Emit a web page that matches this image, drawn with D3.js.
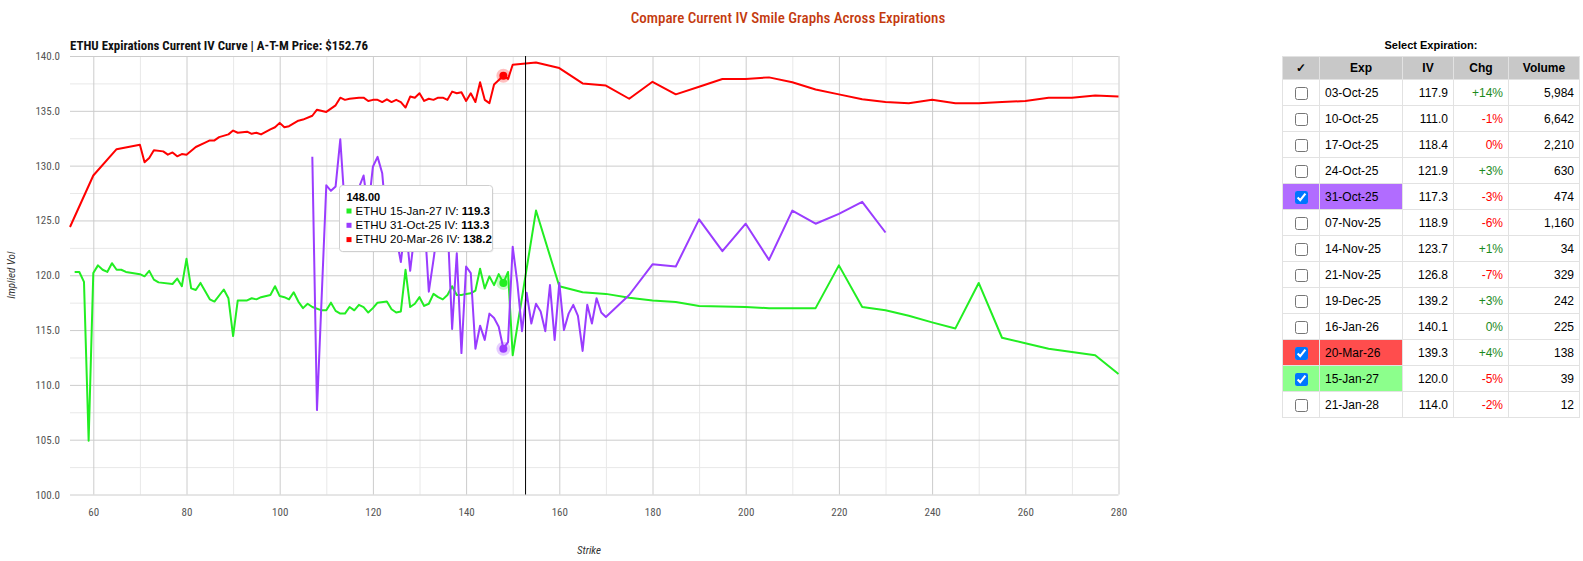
<!DOCTYPE html>
<html>
<head>
<meta charset="utf-8">
<script src="https://cdnjs.cloudflare.com/ajax/libs/d3/7.8.5/d3.min.js"></script>
<style>
  body { margin: 0; background: #fff; width: 1583px; height: 561px; overflow: hidden; position: relative; }
  #chart { position: absolute; left: 0; top: 0; }
  #pickCaption { position: absolute; left: 1283px; width: 296px; top: 39px; text-align: center;
    font: bold 11px 'Liberation Sans', Arial, sans-serif; color: #000; }
  #expTable { position: absolute; left: 1282px; top: 56px; border-collapse: collapse;
    font: 12px 'Liberation Sans', Arial, sans-serif; color: #000; }
  #expTable th { background: #c8c8c8; height: 22px; padding: 0; border: 1px solid #e2e2e2; font-weight: bold; }
  #expTable td { height: 25px; padding: 0 5px; border: 1px solid #e2e2e2; }
  #expTable td.cb { text-align: center; padding: 0; }
  #expTable td.num { text-align: right; }
  #expTable input { margin: 0; vertical-align: middle; width: 13px; height: 13px; }
</style>
</head>
<body>
<svg id="chart" width="1583" height="561"></svg>
<div id="pickCaption">Select Expiration:</div>
<table id="expTable"></table>
<script>
// ---- series data (strike / implied vol) ----
const mar26Strikes = [55,60,65,70,71,72,73,75,76,77,78,79,80,82,84,85,86,87,89,90,91,93,94,95,96,98,99,100,101,102,104,105,107,108,110,112,113,114,115,116,117,118,119,120,121,122,123,124,125,126,127,128,129,130,131,132,133,134,135,136,137,138,139,140,141,142,143,144,145,146,148,149,150,155,160,165,170,175,180,185,190,195,200,205,210,215,220,225,230,235,240,245,250,255,260,265,270,275,280];
const mar26IV = [124.4,129.1,131.5,131.9,130.3,130.7,131.4,131.3,131.0,131.2,130.85,131.05,131.0,131.7,132.1,132.3,132.3,132.6,132.85,133.2,133.0,133.1,132.9,133.0,132.85,133.3,133.5,133.9,133.5,133.6,134.1,134.2,134.55,135.1,134.9,135.5,136.2,136.0,136.1,136.15,136.2,136.2,135.9,136.0,136.0,135.8,136.05,135.8,136.0,135.8,135.3,136.3,136.2,136.6,135.9,136.1,136.0,136.2,136.2,136.0,136.75,136.6,136.7,135.9,136.6,135.8,137.6,136.0,135.7,137.4,138.2,137.9,139.2,139.4,138.9,137.5,137.3,136.1,137.65,136.5,137.2,137.9,137.9,138.05,137.6,136.95,136.5,136.05,135.8,135.7,136.0,135.7,135.7,135.8,135.9,136.2,136.2,136.4,136.3];

const jan27Strikes = [56,57,58,59,60,61,62,63,64,65,66,67,70,71,72,73,74,77,78,79,80,81,82,83,85,86,88,89,90,91,93,94,95,96,98,99,100,101,102,103,104,105,106,107,109,110,111,112,113,114,115,116,117,118,119,120,121,123,124,125,126,127,128,129,130,131,132,133,134,135,136,137,138,139,140,141,142,143,144,145,146,147,148,149,150,155,160,165,170,175,180,185,190,200,205,215,220,225,230,235,240,245,250,255,260,265,270,275,280];
const jan27IV = [120.3,120.3,119.4,104.9,120.2,120.9,120.5,120.3,121.1,120.5,120.5,120.3,120.1,119.9,120.4,119.6,119.35,119.2,119.7,119.0,121.5,118.8,118.65,119.3,117.8,117.6,118.7,117.9,114.45,117.7,117.7,117.9,117.8,118.0,118.2,119.0,118.1,118.0,117.8,118.45,117.6,117.0,117.4,117.1,116.8,116.8,117.5,116.75,116.5,116.5,117.1,116.8,117.3,117.1,116.6,117.0,117.5,117.6,116.9,116.6,116.7,120.5,117.1,117.4,118.0,117.2,117.4,118.3,118.0,117.8,118.2,119.0,118.2,118.2,118.3,118.35,118.6,120.6,118.8,119.9,119.1,120.1,119.3,120.3,112.7,125.9,119.0,118.45,118.3,117.95,117.7,117.55,117.2,117.1,117.0,117.0,120.9,117.1,116.8,116.3,115.7,115.15,119.3,114.3,113.8,113.3,113.0,112.7,111.0];

const oct31Strikes = [107,108,110,111,112,113,114,115,116,117,118,119,120,121,122,123,124,125,126,127,128,129,130,131,132,133,134,135,136,137,138,139,140,141,142,143,144,145,146,147,148,149,150,151,152,153,154,155,156,157,158,159,160,161,162,163,164,165,166,167,168,169,170,175,180,185,190,195,200,205,210,215,220,225,230];
const oct31IV = [130.8,107.7,128.2,127.7,128.1,132.4,126.0,127.0,125.0,128.0,129.1,126.0,129.9,130.8,129.3,124.5,126.0,123.5,121.2,124.8,120.4,124.0,123.2,125.5,118.5,121.4,124.5,123.0,125.0,115.1,122.0,112.9,120.8,120.2,113.3,115.4,114.1,116.5,116.1,115.3,113.3,113.9,122.6,119.3,114.9,118.4,115.6,117.4,116.7,114.9,119.1,114.1,119.3,115.0,116.5,117.3,116.3,113.1,117.3,115.6,117.9,116.6,116.2,118.2,121.0,120.8,125.1,122.2,124.7,121.4,125.9,124.7,125.6,126.7,123.9];

// tooltip order and colours
const seriesNames = ["ETHU 15-Jan-27", "ETHU 31-Oct-25", "ETHU 20-Mar-26"];
const seriesColors = ["#22ee22", "#9a3cff", "#ff0000"];
const hoverStrike = 148;
const atmPrice = 152.76;

// axis ticks
const xTicks = [60,80,100,120,140,160,180,200,220,240,260,280];
const yTicks = [100,105,110,115,120,125,130,135,140];

// ---- expiration table data ----
const expDates = ["03-Oct-25","10-Oct-25","17-Oct-25","24-Oct-25","31-Oct-25","07-Nov-25","14-Nov-25","21-Nov-25","19-Dec-25","16-Jan-26","20-Mar-26","15-Jan-27","21-Jan-28"];
const expIV = ["117.9","111.0","118.4","121.9","117.3","118.9","123.7","126.8","139.2","140.1","139.3","120.0","114.0"];
const expChg = ["+14%","-1%","0%","+3%","-3%","-6%","+1%","-7%","+3%","0%","+4%","-5%","-2%"];
const expChgUp = [true,false,false,true,false,false,true,false,true,true,true,false,false];
const expVolume = ["5,984","6,642","2,210","630","474","1,160","34","329","242","225","138","39","12"];
const expPicked = {"31-Oct-25": "#b16cff", "20-Mar-26": "#ff4d4d", "15-Jan-27": "#8cff8c"};

const chartFont = "'Liberation Sans Narrow','Arial Narrow','Roboto Condensed',Roboto,sans-serif";
const tipFont = "'Liberation Sans',Arial,sans-serif";

let svg = d3.select("#chart");
let plot = {left: 70, right: 1118.5, top: 56, bottom: 494.5};

let x = d3.scaleLinear().domain([55, 280]).range([plot.left, plot.right]);
let y = d3.scaleLinear().domain([100, 140]).range([plot.bottom, plot.top]);

// page title
svg.append("text")
    .attr("x", 788).attr("y", 23)
    .attr("text-anchor", "middle")
    .style("font-family", chartFont).style("font-size", "15px").style("font-weight", "500")
    .attr("fill", "#c43a0e")
    .text("Compare Current IV Smile Graphs Across Expirations");

svg.append("text")
    .attr("x", 70).attr("y", 50)
    .attr("textLength", 298).attr("lengthAdjust", "spacingAndGlyphs")
    .style("font-family", chartFont).style("font-size", "13.5px").style("font-weight", "bold")
    .attr("fill", "#111")
    .text("ETHU Expirations Current IV Curve | A-T-M Price: $" + atmPrice.toFixed(2));

//#region grid
let grid = svg.append("g");
grid.selectAll(".ymin").data(d3.range(102.5, 140, 5)).join("line")
    .attr("x1", plot.left).attr("x2", plot.right)
    .attr("y1", d => y(d) + 0.5).attr("y2", d => y(d) + 0.5)
    .attr("stroke", "#e8e8e8");
grid.selectAll(".xmin").data(d3.range(70, 280, 20)).join("line")
    .attr("y1", plot.top).attr("y2", plot.bottom)
    .attr("x1", d => x(d) + 0.5).attr("x2", d => x(d) + 0.5)
    .attr("stroke", "#e8e8e8");
grid.selectAll(".ymaj").data(yTicks).join("line")
    .attr("x1", plot.left).attr("x2", plot.right)
    .attr("y1", d => y(d) + 0.5).attr("y2", d => y(d) + 0.5)
    .attr("stroke", "#cccccc");
grid.selectAll(".xmaj").data(xTicks).join("line")
    .attr("y1", plot.top).attr("y2", plot.bottom)
    .attr("x1", d => x(d) + 0.5).attr("x2", d => x(d) + 0.5)
    .attr("stroke", "#cccccc");
//#endregion

// axes
let yAxis = d3.axisLeft(y).tickValues(yTicks).tickFormat(d3.format(".1f")).tickSize(0).tickPadding(10);
let xAxis = d3.axisBottom(x).tickValues(xTicks).tickSize(0).tickPadding(14);
let gy = svg.append("g").attr("transform", `translate(${plot.left},0)`).call(yAxis);
let gx = svg.append("g").attr("transform", `translate(0,${plot.bottom})`).call(xAxis);
[gx, gy].forEach(g => {
    g.select(".domain").remove();
    g.selectAll("text").style("font-family", chartFont).style("font-size", "11px").attr("fill", "#555");
});

svg.append("text")
    .attr("transform", `translate(15,${(plot.top + plot.bottom) / 2}) rotate(-90)`)
    .attr("text-anchor", "middle")
    .style("font-family", chartFont).style("font-size", "11px").style("font-style", "italic")
    .attr("fill", "#333").text("Implied Vol");
svg.append("text")
    .attr("x", 589).attr("y", 554).attr("text-anchor", "middle")
    .style("font-family", chartFont).style("font-size", "11px").style("font-style", "italic")
    .attr("fill", "#333").text("Strike");

// lines
let series = [
    {name: seriesNames[0], color: seriesColors[0], data: jan27Strikes.map((s, i) => ({s: s, v: jan27IV[i]}))},
    {name: seriesNames[1], color: seriesColors[1], data: oct31Strikes.map((s, i) => ({s: s, v: oct31IV[i]}))},
    {name: seriesNames[2], color: seriesColors[2], data: mar26Strikes.map((s, i) => ({s: s, v: mar26IV[i]}))}
];
let line = d3.line().x(d => x(d.s)).y(d => y(d.v));
svg.append("g").selectAll("path").data(series).join("path")
    .attr("d", d => line(d.data))
    .attr("fill", "none")
    .attr("stroke", d => d.color)
    .attr("stroke-width", 2)
    .attr("stroke-linejoin", "round");

// ATM price line
svg.append("line")
    .attr("x1", x(atmPrice)).attr("x2", x(atmPrice))
    .attr("y1", plot.top).attr("y2", plot.bottom)
    .attr("stroke", "#000").attr("stroke-width", 1);

// hover markers
let hovered = series.map(sr => ({name: sr.name, color: sr.color, pt: sr.data.find(d => d.s === hoverStrike)}));
let gDot = svg.append("g");
gDot.selectAll(".halo").data(hovered).join("circle")
    .attr("cx", d => x(d.pt.s)).attr("cy", d => y(d.pt.v)).attr("r", 7)
    .attr("fill", d => d.color).attr("fill-opacity", 0.25);
gDot.selectAll(".dot").data(hovered).join("circle")
    .attr("cx", d => x(d.pt.s)).attr("cy", d => y(d.pt.v)).attr("r", 4)
    .attr("fill", d => d.color);

//#region tooltip
let tip = svg.append("g").attr("transform", "translate(339.5,185.5)");
tip.append("rect").attr("x", 1).attr("y", 1).attr("width", 153).attr("height", 66).attr("rx", 3)
    .attr("fill", "#000").attr("fill-opacity", 0.06);
tip.append("rect").attr("width", 153).attr("height", 66).attr("rx", 3)
    .attr("fill", "#fff").attr("stroke", "#cfcfcf");
tip.append("text").attr("x", 7).attr("y", 15)
    .style("font-family", tipFont).style("font-size", "11px").style("font-weight", "bold")
    .text(hoverStrike.toFixed(2));
let rows = tip.selectAll(".row").data(hovered).join("g")
    .attr("transform", (d, i) => `translate(7,${29 + i * 14.3})`);
rows.append("rect").attr("x", 0).attr("y", -6).attr("width", 5).attr("height", 5).attr("fill", d => d.color);
let rt = rows.append("text").attr("x", 9).attr("y", 0)
    .style("font-family", tipFont).style("font-size", "11.5px");
rt.append("tspan").text(d => d.name + " IV: ");
rt.append("tspan").style("font-weight", "bold").text(d => d.pt.v.toFixed(1));
//#endregion

//#region expiration table
let table = d3.select("#expTable");
let head = table.append("tr");
[["\u2713", 37], ["Exp", 83], ["IV", 51], ["Chg", 55], ["Volume", 71]].forEach(h => {
    head.append("th").style("width", (h[1] - 1) + "px").text(h[0]);
});
expDates.forEach((dt, i) => {
    let tr = table.append("tr");
    let bg = expPicked[dt] || null;
    tr.append("td").attr("class", "cb").style("background", bg)
        .append("input").attr("type", "checkbox").property("checked", !!bg);
    tr.append("td").style("background", bg).text(dt);
    tr.append("td").attr("class", "num").text(expIV[i]);
    tr.append("td").attr("class", "num").style("color", expChgUp[i] ? "#1c8a1c" : "#ff0000").text(expChg[i]);
    tr.append("td").attr("class", "num").text(expVolume[i]);
});
//#endregion
</script>
</body>
</html>
